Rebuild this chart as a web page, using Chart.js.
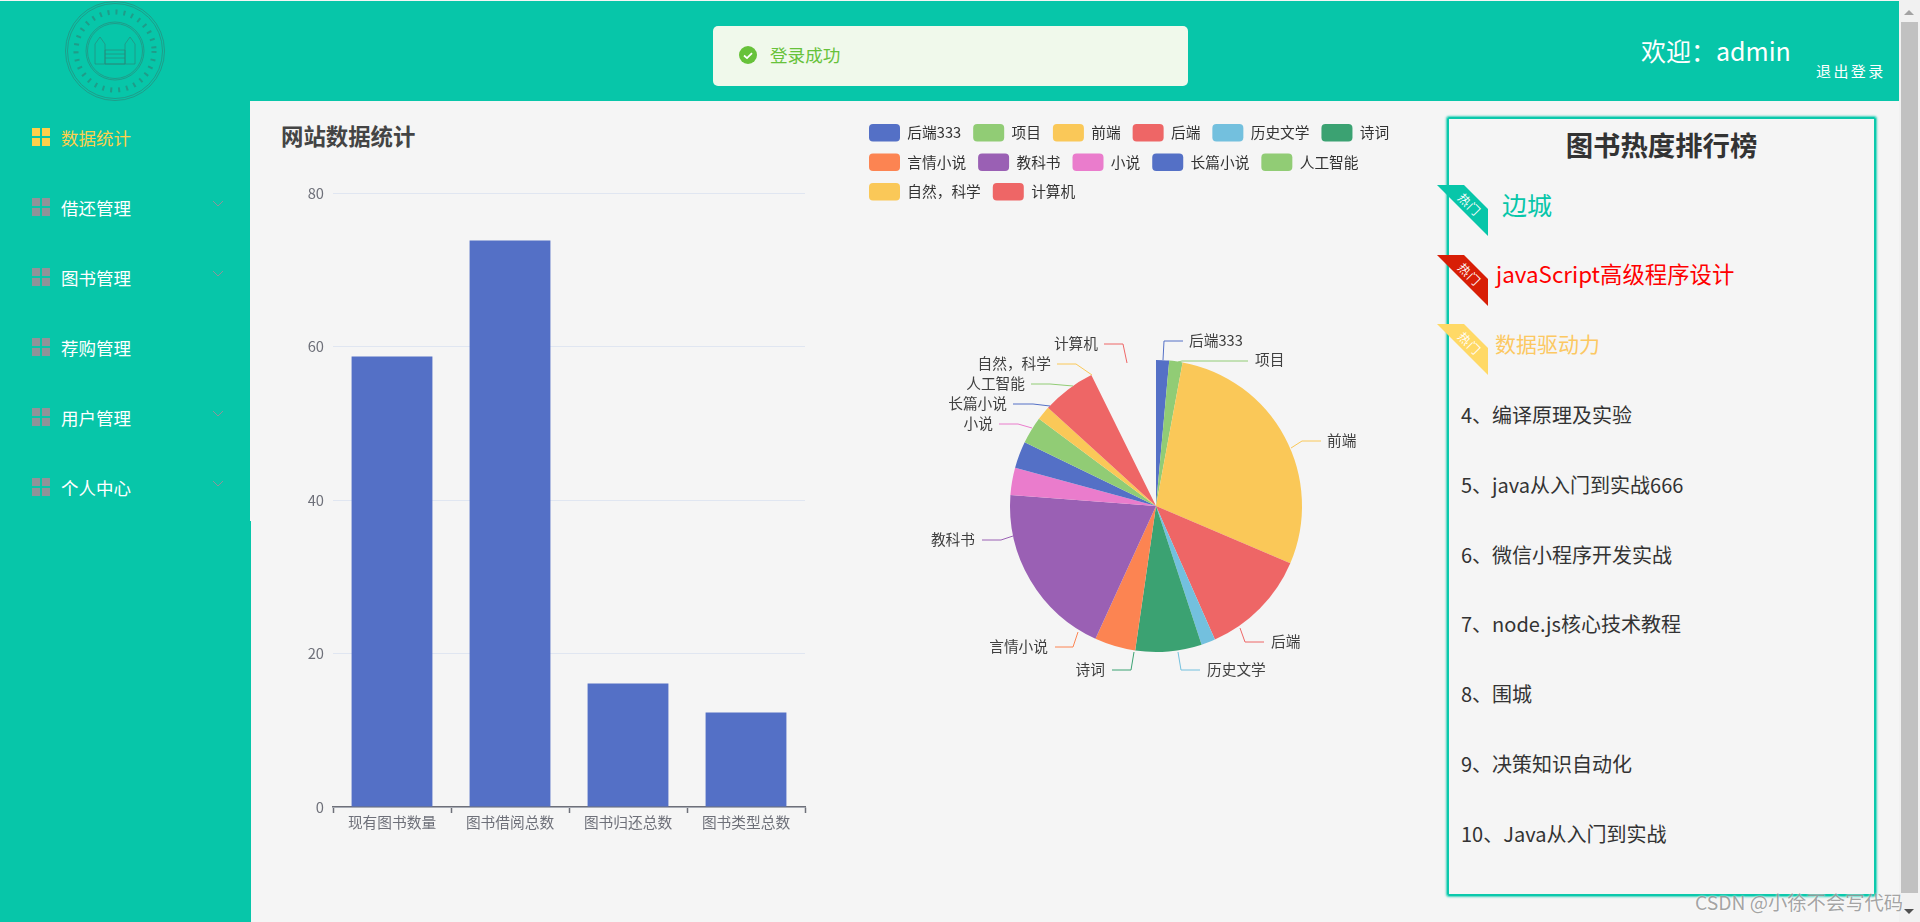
<!DOCTYPE html>
<html lang="zh">
<head>
<meta charset="utf-8">
<title>网站数据统计</title>
<script src="https://cdn.jsdelivr.net/npm/chart.js@4/dist/chart.umd.js"></script>
<style>
  * { box-sizing: border-box; margin: 0; padding: 0; }
  html, body { width: 1920px; height: 922px; overflow: hidden; background: #f5f5f5; font-family: "Noto Sans CJK SC", "Noto Sans", sans-serif; }
  .abs { position: absolute; white-space: nowrap; }
  #header { left: 0; top: 1px; width: 1899px; height: 100px; background: #07c6a9; }
  #sidebar { left: 0; top: 100px; width: 250px; height: 421px; background: #07c6a9; }
  #sidebar2 { left: 0; top: 521px; width: 251px; height: 401px; background: #07c6a9; }
  #logo { left: 63px; top: 0; }
  #message { left: 713px; top: 26px; width: 475px; height: 60px; background: #f0f9eb; border-radius: 5px; }
  #messageText { left: 770px; top: 42px; line-height: 26px; font-size: 17.6px; color: #67c23a; }
  #welcome { left: 1641px; top: 32px; line-height: 36px; font-size: 25px; color: #fff; }
  #logout { left: 1816px; top: 61px; line-height: 20px; font-size: 15px; letter-spacing: 2.4px; color: #fff; }
  .menuText { left: 61px; line-height: 24px; font-size: 17.5px; color: #fff; }
  .menuText.on { color: #ffd04b; }
  #pageTitle { left: 281px; top: 118px; line-height: 34px; font-size: 22.4px; font-weight: 700; color: #444; }
  #barBox { left: 280px; top: 169px; }
  #pieBox { left: 857px; top: 112px; }
  #rankBox { left: 1447px; top: 117px; width: 429px; height: 779px; border: 2px solid #0cc9ac; box-shadow: 0 0 2px 1px rgba(12,201,172,.8); border-radius: 2px; }
  #rankTitle { left: 1447px; width: 429px; top: 124px; line-height: 40px; font-size: 27.4px; font-weight: 700; color: #333; text-align: center; }
  .book { line-height: 34px; }
  #scrollTrack { left: 1899px; top: 0; width: 21px; height: 922px; background: #f1f1f1; }
  #scrollThumb { left: 1901px; top: 22px; width: 17px; height: 871px; background: #c1c1c1; }
  #watermark { left: 1695px; top: 890px; line-height: 24px; font-size: 19.3px; color: rgba(125,125,125,.7); text-shadow: 0 0 2px #fff; }
</style>
</head>
<body>
<div class="abs" id="header"></div>
<div class="abs" id="sidebar"></div>
<div class="abs" id="sidebar2"></div>

<svg class="abs" id="logo" width="104" height="102" fill="none" stroke="#2a8a7c" stroke-opacity=".7">
  <circle cx="52" cy="51" r="49.5"/>
  <circle cx="52" cy="51" r="47.5"/>
  <circle cx="52" cy="51" r="39" stroke-width="5" stroke-dasharray="2 6"/>
  <circle cx="52" cy="51" r="29"/>
  <circle cx="52" cy="51" r="27.5"/>
  <path d="M32 64V44l5-7 5 7v20M62 64V44l5-7 5 7v20M42 50h20v14H42zM42 54h20M42 58h20M32 64h40" />
</svg>

<div class="abs" id="message"></div>
<svg class="abs" style="left:739px;top:46px" width="18" height="18">
  <circle cx="9" cy="9" r="9" fill="#67c23a"/>
  <path d="M5 9.5l3 2.6 5-5" fill="none" stroke="#fff" stroke-width="1.8"/>
</svg>
<div class="abs" id="messageText">登录成功</div>
<div class="abs" id="welcome">欢迎：admin</div>
<div class="abs" id="logout">退出登录</div>
<div class="abs" id="pageTitle">网站数据统计</div>

<div class="abs" id="barBox"><canvas id="barChart" width="540" height="681"></canvas></div>
<div class="abs" id="pieBox"><canvas id="pieChart" width="560" height="620"></canvas></div>

<div class="abs" id="rankBox"></div>
<div class="abs" id="rankTitle">图书热度排行榜</div>

<div class="abs" id="scrollTrack"></div>
<div class="abs" id="scrollThumb"></div>
<svg class="abs" style="left:1899px;top:0" width="21" height="22"><path d="M5 15h10l-5-5z" fill="#a3a3a3"/></svg>
<svg class="abs" style="left:1899px;top:905px" width="21" height="17"><path d="M5 4h10l-5 5z" fill="#505050"/></svg>
<div class="abs" id="watermark">CSDN @小徐不会写代码</div>

<script>
// bar chart (the screenshot caught the bars mid animation, so not whole numbers)
const statLabels = ['现有图书数量', '图书借阅总数', '图书归还总数', '图书类型总数'];
const statValues = [58.7, 73.8, 16.1, 12.3];

// pie chart in degrees of sweep
const typeLabels = ['后端333', '项目', '前端', '后端', '历史文学', '诗词', '言情小说', '教科书', '小说', '长篇小说', '人工智能', '自然，科学', '计算机'];
const typeValues = [5.2, 5.3, 102.6, 43.1, 5.6, 26.4, 16.3, 69.8, 10.9, 10.7, 10.8, 5.6, 21.4];
const typeColors = ['#5470c6', '#91cc75', '#fac858', '#ee6666', '#73c0de', '#3ba272', '#fc8452', '#9a60b4', '#ea7ccc', '#5470c6', '#91cc75', '#fac858', '#ee6666'];

// side lists
const menuLabels = ['数据统计', '借还管理', '图书管理', '荐购管理', '用户管理', '个人中心'];
const menuHasArrow = [false, true, true, false, true, true];
const topBooks = ['边城', 'javaScript高级程序设计', '数据驱动力'];
const otherBooks = ['4、编译原理及实验', '5、java从入门到实战666', '6、微信小程序开发实战', '7、node.js核心技术教程', '8、围城', '9、决策知识自动化', '10、Java从入门到实战'];

const FONT = '"Noto Sans CJK SC", "Noto Sans", sans-serif';

function addHtml(html) {
    document.body.insertAdjacentHTML('beforeend', html);
}

// Sidebar
menuLabels.forEach((label, i) => {
    const y = 138 + i * 70;
    const color = i === 0 ? '#ffd04b' : '#909399';
    addHtml(`<svg class="abs" style="left:32px;top:${y - 10}px" width="18" height="18" fill="${color}">
        <rect width="8" height="8"/><rect x="10" width="8" height="8"/><rect y="10" width="8" height="8"/><rect x="10" y="10" width="8" height="8"/></svg>
        <div class="abs menuText ${i === 0 ? 'on' : ''}" style="top:${y - 12}px">${label}</div>`);
    if (menuHasArrow[i]) {
        addHtml(`<svg class="abs" style="left:212px;top:${y - 8}px" width="12" height="8"><path d="M1 1l5 5 5-5" fill="none" stroke="#909399"/></svg>`);
    }
});

// Ranking list
const ribbonColors = ['#07c6a9', '#d81e06', '#ffd966'];
const topStyles = [
    { x: 1502, y: 204, size: 25, color: '#07c6a9' },
    { x: 1496, y: 273, size: 22.4, color: '#ff0000' },
    { x: 1495, y: 343, size: 21, color: '#fcc862' }
];
topBooks.forEach((name, i) => {
    const top = 185 + i * 69.5;
    const s = topStyles[i];
    addHtml(`<svg class="abs" style="left:1437px;top:${top}px" width="52" height="52">
        <polygon points="0,0 27,0 51,24 51,51" fill="${ribbonColors[i]}"/>
        <text x="32" y="24" transform="rotate(45 32 20)" font-size="12" letter-spacing="1" fill="#fff" text-anchor="middle" font-family='${FONT}'>热门</text></svg>
        <div class="abs book" style="left:${s.x}px;top:${s.y - 17}px;font-size:${s.size}px;color:${s.color}">${name}</div>`);
});
otherBooks.forEach((name, i) => {
    const y = 415 + i * 69.8;
    addHtml(`<div class="abs book" style="left:1461px;top:${y - 17}px;font-size:20px;color:#333">${name}</div>`);
});

// Bar chart
new Chart(document.getElementById('barChart'), {
    type: 'bar',
    data: {
        labels: statLabels,
        datasets: [{ data: statValues, backgroundColor: '#5470c6', barPercentage: 0.685, categoryPercentage: 1 }]
    },
    options: {
        responsive: false,
        animation: false,
        layout: { padding: { top: 24, right: 15 } },
        plugins: { legend: { display: false }, tooltip: { enabled: false } },
        scales: {
            x: {
                afterFit: scale => { scale.height = 43; },
                border: { color: '#6e7079', width: 1.5 },
                grid: { drawOnChartArea: false, tickLength: 6, tickColor: '#6e7079', tickWidth: 1.5 },
                ticks: { color: '#6e7079', padding: 1, maxRotation: 0, autoSkip: false, font: { family: FONT, size: 14.7 } }
            },
            y: {
                min: 0,
                max: 80,
                afterFit: scale => { scale.width = 53; },
                border: { display: false },
                grid: { color: '#e0e6f1', drawTicks: false },
                ticks: { stepSize: 20, color: '#6e7079', padding: 9, font: { family: FONT, size: 14.7 } }
            }
        }
    }
});

// Leader lines of the pie, px from the pie centre: [anchor, elbow, end], then text x, text y
const leaderLines = [
    [7, -146, 8, -165, 27, -165, 33, -166],
    [22, -144, 26, -145, 92, -145, 99, -147],
    [135, -58, 146, -65, 165, -65, 171, -66],
    [84, 122, 89, 136, 108, 136, 115, 135],
    [22, 146, 25, 164, 44, 164, 51, 163],
    [-22, 146, -25, 164, -44, 164, -51, 163],
    [-78, 126, -83, 141, -101, 141, -108, 140],
    [-143, 30, -155, 34, -174, 34, -181, 33],
    [-124, -78, -138, -82, -157, -82, -163, -83],
    [-106, -100, -123, -102, -143, -102, -149, -103],
    [-83, -120, -106, -122, -125, -122, -131, -123],
    [-64, -131, -80, -142, -99, -142, -105, -143],
    [-29, -143, -33, -162, -52, -162, -58, -163]
];

const pieLeaders = {
    id: 'pieLeaders',
    afterLayout(chart) {
        // pie sits right of the legend's centre line, 292px across
        chart.chartArea = { left: 153, top: 248, right: 445, bottom: 540, width: 292, height: 292 };
    },
    afterDatasetsDraw(chart) {
        const { ctx } = chart;
        const arc = chart.getDatasetMeta(0).data[0];
        ctx.save();
        ctx.font = '14.7px ' + FONT;
        ctx.textBaseline = 'middle';
        leaderLines.forEach((l, i) => {
            ctx.beginPath();
            ctx.moveTo(arc.x + l[0], arc.y + l[1]);
            ctx.lineTo(arc.x + l[2], arc.y + l[3]);
            ctx.lineTo(arc.x + l[4], arc.y + l[5]);
            ctx.strokeStyle = typeColors[i];
            ctx.lineWidth = 1;
            ctx.stroke();
            ctx.fillStyle = '#404040';
            ctx.textAlign = l[6] > 0 ? 'left' : 'right';
            ctx.fillText(typeLabels[i], arc.x + l[6], arc.y + l[7]);
        });
        ctx.restore();
    }
};

new Chart(document.getElementById('pieChart'), {
    type: 'pie',
    data: {
        labels: typeLabels,
        datasets: [{ data: typeValues, backgroundColor: typeColors, borderWidth: 0, clip: false }]
    },
    options: {
        responsive: false,
        animation: false,
        // the rest of the circle was still empty in the screenshot
        circumference: typeValues.reduce((a, b) => a + b, 0),
        plugins: {
            tooltip: { enabled: false },
            legend: {
                position: 'top',
                align: 'start',
                labels: {
                    boxWidth: 31,
                    boxHeight: 17.5,
                    padding: 12,
                    color: '#333',
                    font: { family: FONT, size: 14.7 },
                    generateLabels: () => typeLabels.map((text, i) => ({
                        text,
                        fillStyle: typeColors[i],
                        strokeStyle: typeColors[i],
                        lineWidth: 0,
                        fontColor: '#333',
                        borderRadius: 4,
                        index: i
                    }))
                }
            }
        }
    },
    plugins: [pieLeaders]
});
</script>
</body>
</html>
